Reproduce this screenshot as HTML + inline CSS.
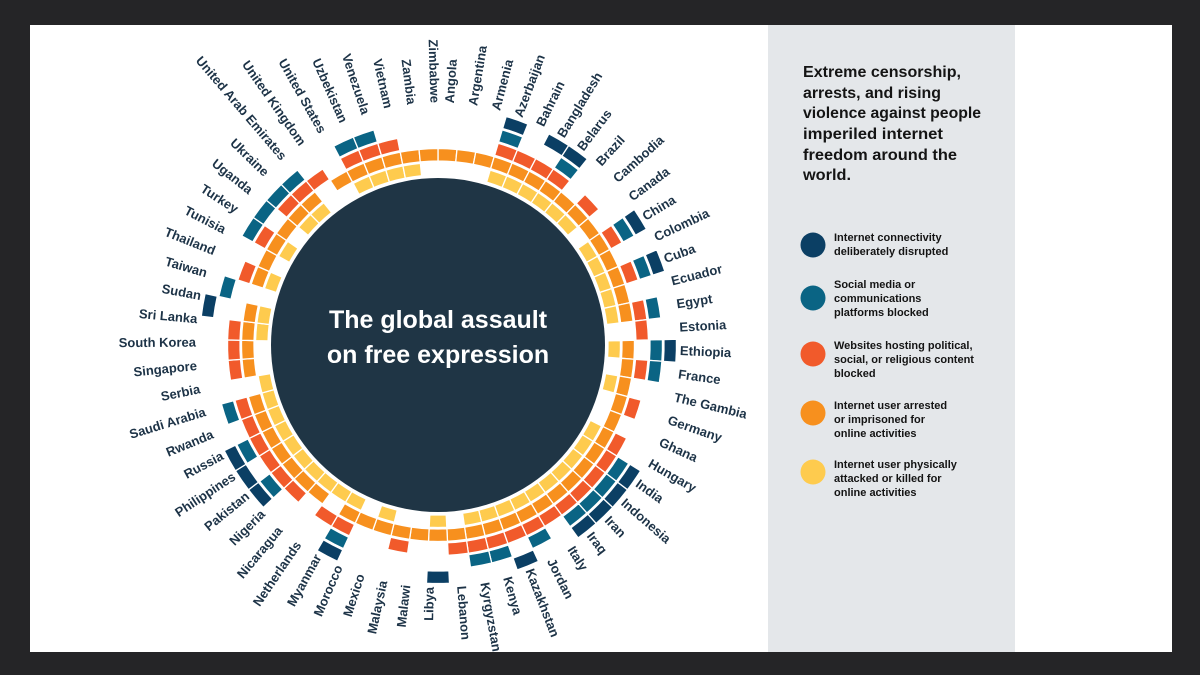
<!DOCTYPE html>
<html><head><meta charset="utf-8"><style>
html,body{margin:0;padding:0;background:#252527;}
svg{display:block;font-family:"Liberation Sans",sans-serif;}
</style></head><body>
<svg id="chart" width="1200" height="675" viewBox="0 0 1200 675" xmlns="http://www.w3.org/2000/svg">
<rect x="0" y="0" width="1200" height="675" fill="#252527"/>
<rect x="30" y="25" width="1142" height="627" fill="#ffffff"/>
<rect x="768" y="25" width="247" height="627" fill="#e4e7ea"/>
<g id="cells"></g>
<circle cx="438" cy="345" r="167" fill="#1f3545"/>
<text x="438" y="328" text-anchor="middle" fill="#fff" font-size="25" font-weight="bold">The global assault</text>
<text x="438" y="363" text-anchor="middle" fill="#fff" font-size="25" font-weight="bold">on free expression</text>
<g id="labels"></g>
<g font-size="15.5" font-weight="bold" fill="#141414">
<text x="803" y="77" textLength="158" lengthAdjust="spacingAndGlyphs">Extreme censorship,</text>
<text x="803" y="98" textLength="138" lengthAdjust="spacingAndGlyphs">arrests, and rising</text>
<text x="803" y="118" textLength="178" lengthAdjust="spacingAndGlyphs">violence against people</text>
<text x="803" y="139" textLength="140" lengthAdjust="spacingAndGlyphs">imperiled internet</text>
<text x="803" y="160" textLength="154" lengthAdjust="spacingAndGlyphs">freedom around the</text>
<text x="803" y="180" textLength="48" lengthAdjust="spacingAndGlyphs">world.</text>
</g>
<g id="legend" font-size="11" font-weight="bold" fill="#141414">
<g><circle cx="813" cy="245" r="12.5" fill="#0b3f64"/><text x="834" y="241">Internet connectivity</text><text x="834" y="255">deliberately disrupted</text></g>
<g><circle cx="813" cy="298" r="12.5" fill="#0a6484"/><text x="834" y="288">Social media or</text><text x="834" y="302">communications</text><text x="834" y="316">platforms blocked</text></g>
<g><circle cx="813" cy="354" r="12.5" fill="#f15a2b"/><text x="834" y="349">Websites hosting political,</text><text x="834" y="363">social, or religious content</text><text x="834" y="377">blocked</text></g>
<g><circle cx="813" cy="413" r="12.5" fill="#f7901e"/><text x="834" y="409">Internet user arrested</text><text x="834" y="423">or imprisoned for</text><text x="834" y="437">online activities</text></g>
<g><circle cx="813" cy="472" r="12.5" fill="#fecb4e"/><text x="834" y="468">Internet user physically</text><text x="834" y="482">attacked or killed for</text><text x="834" y="496">online activities</text></g>
</g>
</svg>
<script>
const countries = ["Angola","Argentina","Armenia","Azerbaijan","Bahrain","Bangladesh","Belarus","Brazil","Cambodia","Canada","China","Colombia","Cuba","Ecuador","Egypt","Estonia","Ethiopia","France","The Gambia","Germany","Ghana","Hungary","India","Indonesia","Iran","Iraq","Italy","Jordan","Kazakhstan","Kenya","Kyrgyzstan","Lebanon","Libya","Malawi","Malaysia","Mexico","Morocco","Myanmar","Netherlands","Nicaragua","Nigeria","Pakistan","Philippines","Russia","Rwanda","Saudi Arabia","Serbia","Singapore","South Korea","Sri Lanka","Sudan","Taiwan","Thailand","Tunisia","Turkey","Uganda","Ukraine","United Arab Emirates","United Kingdom","United States","Uzbekistan","Venezuela","Vietnam","Zambia","Zimbabwe"];
const attacked =   [0,0,0,1,1,1,1,1,1,0,1,1,1,1,1,0,1,0,1,0,0,1,1,1,1,1,1,1,1,1,1,0,1,0,0,1,0,1,1,1,1,1,1,1,1,1,1,0,0,1,1,0,1,0,1,0,1,1,0,0,1,1,1,1,0];
const arrested =   [1,1,1,1,1,1,1,1,1,1,1,1,1,1,1,0,1,1,1,1,1,1,1,1,1,1,1,1,1,1,1,1,1,1,1,1,1,1,0,1,1,1,1,1,1,1,0,1,1,1,1,0,1,1,1,1,1,1,0,1,1,1,1,1,1];
const websites =   [0,0,0,1,1,1,1,0,1,0,1,0,1,0,1,1,0,1,0,1,0,1,1,1,1,1,1,1,1,1,1,1,0,0,1,0,0,1,1,0,1,1,1,1,1,1,0,1,1,1,0,0,1,0,1,0,1,1,1,0,1,1,1,0,0];
const socialMedia= [0,0,0,1,0,0,1,0,0,0,1,0,1,0,1,0,1,1,0,0,0,0,1,1,1,1,0,1,0,1,1,0,0,0,0,0,0,1,0,0,0,1,0,1,0,1,0,0,0,0,0,1,0,0,1,1,1,1,0,0,1,1,0,0,0];
const connectivity=[0,0,0,1,0,1,1,0,0,0,1,0,1,0,0,0,1,0,0,0,0,0,1,1,1,1,0,0,1,0,0,0,1,0,0,0,0,1,0,0,0,1,1,1,0,0,0,0,0,0,1,0,0,0,0,0,0,0,0,0,0,0,0,0,0];
const seriesList = [attacked, arrested, websites, socialMedia, connectivity];
const seriesNames = ["attacked","arrested","websites-blocked","social-media-blocked","connectivity-disrupted"];
const colors = ["#fecb4e","#f7901e","#f15a2b","#0a6484","#0b3f64"];
const NS = "http://www.w3.org/2000/svg";
const cx = 438, cy = 345, innerR = 170, ringStep = 14, ringW = 12.5, labelR = 242;
function angleOf(i){ return i * 360 / countries.length; }
function pt(r, a){ const t = a*Math.PI/180; return [cx + r*Math.sin(t), cy - r*Math.cos(t)]; }
function arcPath(r0, r1, a0, a1){
  const p1=pt(r0,a0), p2=pt(r1,a0), p3=pt(r1,a1), p4=pt(r0,a1);
  return `M${p1[0]},${p1[1]}L${p2[0]},${p2[1]}A${r1},${r1} 0 0 1 ${p3[0]},${p3[1]}L${p4[0]},${p4[1]}A${r0},${r0} 0 0 0 ${p1[0]},${p1[1]}Z`;
}
const cellsG = document.getElementById('cells');
const labelsG = document.getElementById('labels');
const step = 360 / countries.length;
countries.forEach((name, i) => {
  const a0 = angleOf(i), a1 = a0 + step;
  seriesList.forEach((s, k) => {
    if (!s[i]) return;
    const r0 = innerR + k*ringStep, r1 = r0 + ringW;
    const p = document.createElementNS(NS, 'path');
    p.setAttribute('d', arcPath(r0, r1, a0, a1));
    p.setAttribute('fill', colors[k]);
    p.setAttribute('stroke', '#fff');
    p.setAttribute('stroke-width', '1.3');
    
    
    cellsG.appendChild(p);
  });
  const am = a0 + step/2 + 1;
  const [x, y] = pt(labelR, am);
  const t = document.createElementNS(NS, 'text');
  t.textContent = name;
  t.setAttribute('x', x);
  t.setAttribute('y', y);
  t.setAttribute('font-size', '13');
  t.setAttribute('font-weight', 'bold');
  t.setAttribute('fill', '#1d3347');
  if (am < 180) {
    t.setAttribute('text-anchor', 'start');
    t.setAttribute('transform', `rotate(${am-90} ${x} ${y})`);
  } else {
    t.setAttribute('text-anchor', 'end');
    t.setAttribute('transform', `rotate(${am+90} ${x} ${y})`);
  }
  
  
  labelsG.appendChild(t);
});
</script>
</body></html>
